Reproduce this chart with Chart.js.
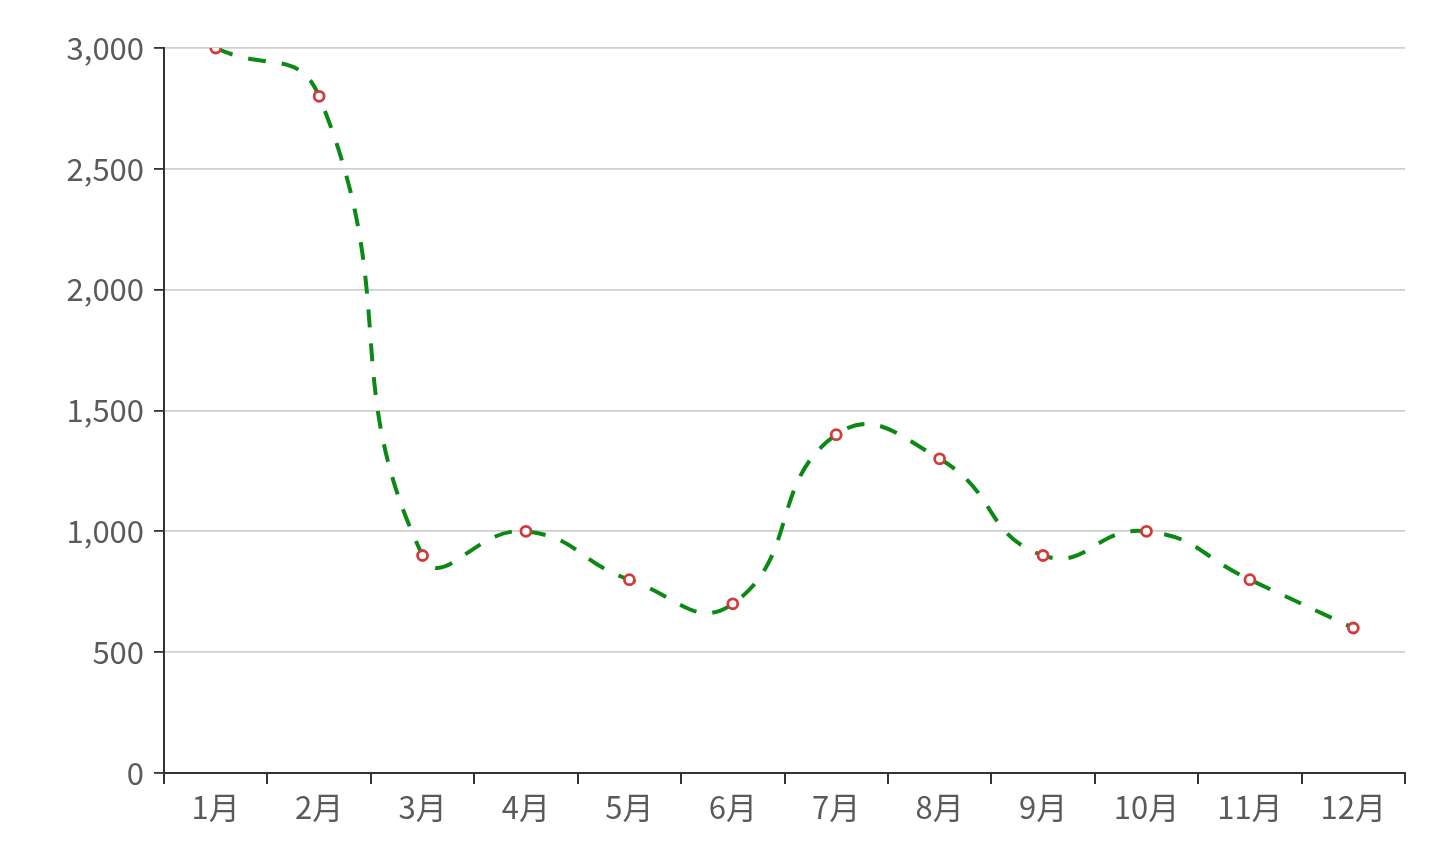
<!DOCTYPE html>
<html>
<head>
<meta charset="utf-8">
<script src="https://cdn.jsdelivr.net/npm/chart.js@4/dist/chart.umd.min.js"></script>
<style>
    html, body { margin: 0; padding: 0; background: #fff; }
    #wrap { width: 1452px; height: 858px; }
</style>
</head>
<body>
<div id="wrap"><canvas id="lineChart" width="1452" height="858"></canvas></div>
<script>
const months = ["1月", "2月", "3月", "4月", "5月", "6月", "7月", "8月", "9月", "10月", "11月", "12月"];
const sales = [3000, 2800, 900, 1000, 800, 700, 1400, 1300, 900, 1000, 800, 600];
const yMax = 3000;
const yStep = 500;

const axisColor = "#333";
const labelColor = "#5a5a5a";
const labelFont = { family: "'Noto Sans CJK SC', 'Noto Sans', sans-serif", size: 31 };

const ctx = document.getElementById("lineChart").getContext("2d");
const lineChart = new Chart(ctx, {
    type: "line",
    data: {
        labels: months,
        datasets: [{
            data: sales,
            borderColor: "#0a8a14",
            borderWidth: 4,
            borderDash: [18, 16],
            tension: 0.5,
            fill: false,
            pointRadius: 5,
            pointBorderWidth: 2.8,
            pointBorderColor: "#d23b3b",
            pointBackgroundColor: "#fff"
        }]
    },
    options: {
        responsive: false,
        animation: false,
        locale: "en-US",
        layout: { padding: { left: 0, right: 47, top: 48, bottom: 0 } },
        plugins: {
            legend: { display: false },
            tooltip: { enabled: false }
        },
        scales: {
            x: {
                offset: true,
                grid: {
                    offset: true,
                    drawOnChartArea: false,
                    tickLength: 11,
                    tickColor: axisColor,
                    lineWidth: 2
                },
                border: { display: true, color: axisColor, width: 2 },
                ticks: { color: labelColor, font: labelFont, padding: 5, maxRotation: 0 },
                afterFit: (scale) => { scale.height = 85; }
            },
            y: {
                min: 0,
                max: yMax,
                ticks: { stepSize: yStep, color: labelColor, font: labelFont, padding: 10 },
                grid: {
                    color: "#cfcfcf",
                    lineWidth: 1.8,
                    tickLength: 10,
                    tickColor: axisColor
                },
                border: { display: true, color: axisColor, width: 2 },
                afterFit: (scale) => { scale.width = 164; }
            }
        }
    }
});
</script>
</body>
</html>
